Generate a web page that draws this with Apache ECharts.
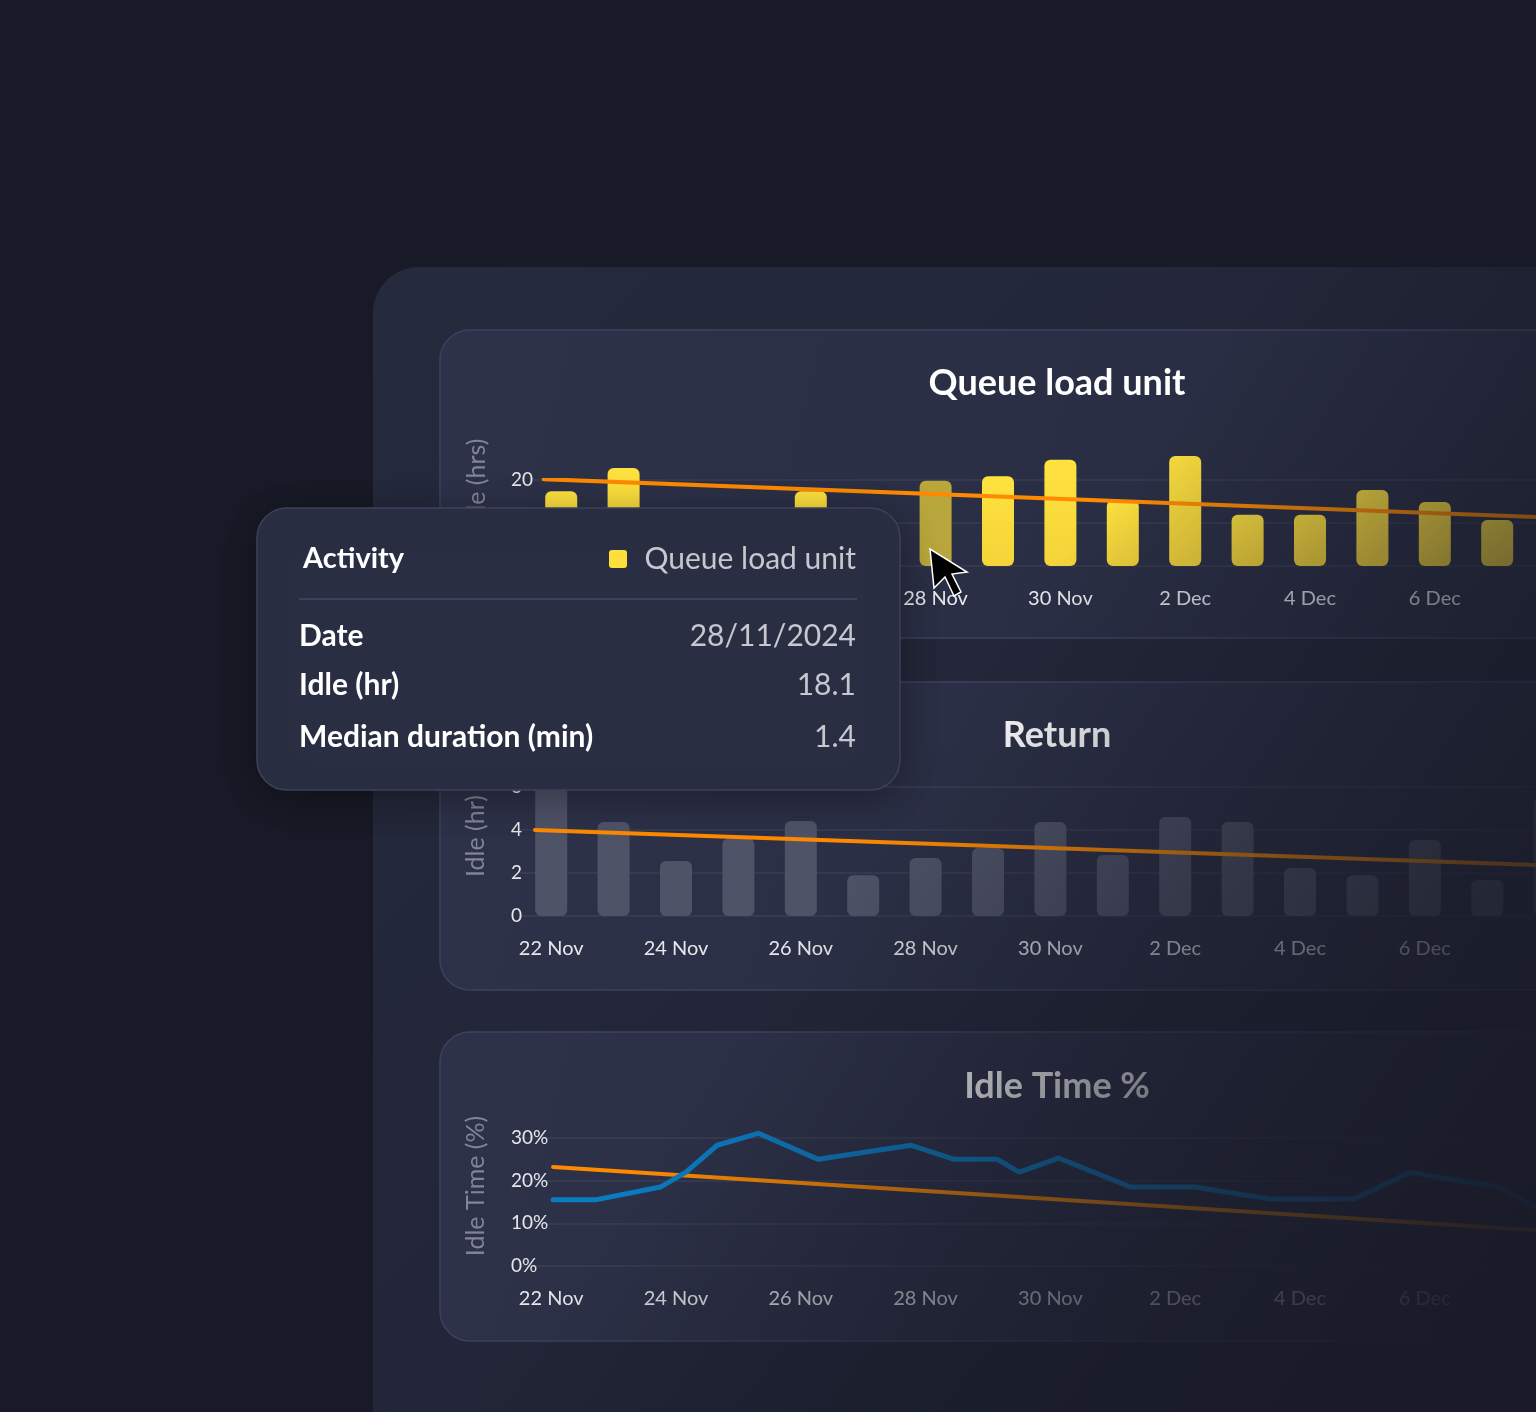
<!DOCTYPE html>
<html>
<head>
<meta charset="utf-8">
<title>Idle dashboard</title>
<script src="https://cdn.jsdelivr.net/npm/echarts@6/dist/echarts.min.js"></script>
<style>
  html, body { margin: 0; padding: 0; background: #181a27; overflow: hidden; }
  #chart { width: 1536px; height: 1412px; }
</style>
</head>
<body>
<div id="chart"></div>
<script>
// days on the x axis
const days = ['22 Nov', '23 Nov', '24 Nov', '25 Nov', '26 Nov', '27 Nov', '28 Nov', '29 Nov', '30 Nov',
  '1 Dec', '2 Dec', '3 Dec', '4 Dec', '5 Dec', '6 Dec', '7 Dec', '8 Dec']

// Queue load unit - idle hours per day (8 Dec is off screen)
const queueIdle = [17.4, 22.8, 9.5, 12.5, 17.4, 11, 19.8, 20.9, 24.7, 15.3, 25.6, 11.9, 11.9, 17.7, 14.9, 10.7, null]
// Return - idle hours per day
const returnIdle = [6.4, 4.37, 2.56, 3.6, 4.42, 1.9, 2.7, 3.16, 4.37, 2.84, 4.6, 4.37, 2.23, 1.9, 3.53, 1.67, 5.5]
// Idle time % line, points read at day positions (0 = 22 Nov)
const idleDayPos = [0.03, 0.71, 1.75, 2.16, 2.66, 3.32, 4.28, 5.77, 6.46, 7.15, 7.5, 8.13, 9.29, 10.32, 11.52, 12.87, 13.77, 14.38, 15.19, 15.79, 16.3]
const idlePct = [15.5, 15.5, 18.5, 22, 28.3, 31.1, 25.0, 28.3, 25, 25, 22, 25.3, 18.5, 18.5, 15.7, 15.7, 22, 20.4, 18.5, 13.6, 10]

// orange trend lines, [day position, value]
const queueTrend = [[-0.28, 20.2], [16.5, 10.9]]
const returnTrend = [[-0.26, 4.0], [16.5, 2.3]]
const idleTrend = [[0.03, 23.2], [16.5, 7.7]]

// y axis ranges [min, max, interval]
const queueAxis = [0, 20, 10]
const returnAxis = [0, 6, 2]
const idleAxis = [0, 30, 10]

// hovered day and tooltip rows
const hoverIndex = 6
const tipRows = [['Date', '28/11/2024'], ['Idle (hr)', '18.1'], ['Median duration (min)', '1.4']]

const FONT = 'Lato, "Noto Sans", sans-serif'
const chart = echarts.init(document.getElementById('chart'))

const catW = 62.4   // width of one day
function catAxis(grid) {
  return {
    type: 'category', gridIndex: grid, data: days,
    axisLine: {show: false}, axisTick: {show: false},
    axisLabel: {
      interval: 1, margin: 23, color: '#e6e7ec', fontSize: 20, fontFamily: FONT,
      formatter: (v, i) => i === days.length - 1 ? '' : v
    }
  }
}
function posAxis(grid) {
  return {type: 'value', gridIndex: grid, min: -0.5, max: days.length - 0.5, show: false}
}
function valAxis(grid, ax, left, fmt) {
  return {
    type: 'value', gridIndex: grid, min: ax[0], max: ax[1], interval: ax[2],
    axisLine: {show: false}, axisTick: {show: false},
    axisLabel: {align: 'left', margin: left - 511, color: '#e6e7ec', fontSize: 19, fontFamily: FONT, formatter: fmt},
    splitLine: {lineStyle: {color: 'rgba(255,255,255,0.07)', width: 1.5}}
  }
}

function text(x, y, t, font, fill, align, extra) {
  return Object.assign({
    type: 'text', x: x, y: y, z: 42, silent: true,
    style: {text: t, font: font, fill: fill, align: align, textAlign: align, verticalAlign: 'middle', textVerticalAlign: 'middle'}
  }, extra || {})
}
function panel(y, h) {
  return {
    type: 'rect', z: -10, silent: true,
    shape: {x: 440, y: y, width: 1200, height: h, r: 30},
    style: {
      fill: new echarts.graphic.LinearGradient(0, 0, 1, 1, [{offset: 0, color: '#2e3249'}, {offset: 1, color: '#272b40'}]),
      stroke: '#3d4160', lineWidth: 1.5
    }
  }
}

const graphics = [
  // outer card
  {
    type: 'rect', z: -20, silent: true,
    shape: {x: 373, y: 267, width: 1400, height: 1400, r: 46},
    style: {fill: new echarts.graphic.LinearGradient(0, 0, 1, 1, [{offset: 0, color: '#252a3d'}, {offset: 1, color: '#1d2030'}])}
  },
  panel(330, 308), panel(682, 308), panel(1032, 309),
  // titles
  text(1057, 383, 'Queue load unit', 'bold 36px ' + FONT, '#ffffff', 'center', {z: 5}),
  text(1057, 735, 'Return', 'bold 36px ' + FONT, '#ffffff', 'center', {z: 5}),
  text(1057, 1086, 'Idle Time %', 'bold 36px ' + FONT, '#ffffff', 'center', {z: 5}),
  // y axis names
  text(477, 485, 'Idle (hrs)', '25px ' + FONT, '#828599', 'center', {z: 5, rotation: Math.PI / 2}),
  text(476, 836, 'Idle (hr)', '25px ' + FONT, '#828599', 'center', {z: 5, rotation: Math.PI / 2}),
  text(476, 1186, 'Idle Time (%)', '25px ' + FONT, '#828599', 'center', {z: 5, rotation: Math.PI / 2}),
  // fade towards the lower right
  {
    type: 'rect', z: 30, silent: true,
    shape: {x: 0, y: 0, width: 1536, height: 1412},
    style: {
      fill: new echarts.graphic.LinearGradient(973, 681, 1611, 1128, [
        {offset: 0, color: 'rgba(24,26,39,0)'},
        {offset: 0.41, color: 'rgba(24,26,39,0.5)'},
        {offset: 0.67, color: 'rgba(24,26,39,0.75)'},
        {offset: 0.93, color: 'rgba(24,26,39,0.92)'},
        {offset: 1, color: 'rgba(24,26,39,0.95)'}
      ], true)
    }
  },
  // tooltip box
  {
    type: 'rect', z: 40, silent: true,
    shape: {x: 257, y: 508, width: 643, height: 282, r: 30},
    style: {fill: '#2a2e43', stroke: '#3d415b', lineWidth: 1.5, shadowBlur: 40, shadowColor: 'rgba(0,0,0,0.35)', shadowOffsetY: 8}
  },
  text(303, 559, 'Activity', 'bold 29px ' + FONT, '#ffffff', 'left'),
  {type: 'rect', z: 42, silent: true, shape: {x: 609, y: 550, width: 18, height: 18, r: 3}, style: {fill: '#ffdf3b'}},
  text(856, 559, 'Queue load unit', '30px ' + FONT, '#c6c7cf', 'right'),
  {type: 'line', z: 42, silent: true, shape: {x1: 299, y1: 599, x2: 857, y2: 599}, style: {stroke: '#3d415b', lineWidth: 2}}
]
const rowY = [636, 685, 737]
tipRows.forEach((r, i) => {
  graphics.push(text(299, rowY[i], r[0], 'bold 30px ' + FONT, '#ffffff', 'left'))
  graphics.push(text(856, rowY[i], r[1], '30px ' + FONT, '#c6c7cf', 'right'))
})
// mouse pointer
graphics.push({
  type: 'polygon', z: 50, silent: true,
  shape: {points: [[930, 549], [934, 588], [945, 577], [954, 596], [961, 592], [952, 574], [967, 572]]},
  style: {fill: '#000000', stroke: '#ffffff', lineWidth: 1.5}
})

const yellow = new echarts.graphic.LinearGradient(0, 0, 0, 1, [{offset: 0, color: '#ffe23e'}, {offset: 1, color: '#f4d43a'}])

const option = {
  backgroundColor: '#181a27',
  animation: false,
  grid: [
    {left: 530, top: 480, height: 86, width: catW * days.length, outerBoundsMode: 'none'},
    {left: 520, top: 787, height: 129, width: catW * days.length, outerBoundsMode: 'none'},
    {left: 520, top: 1138, height: 128, width: catW * days.length, outerBoundsMode: 'none'}
  ],
  xAxis: [catAxis(0), posAxis(0), catAxis(1), posAxis(1), catAxis(2), posAxis(2)],
  yAxis: [
    valAxis(0, queueAxis, 530),
    valAxis(1, returnAxis, 520),
    valAxis(2, idleAxis, 520, '{value}%')
  ],
  graphic: {elements: graphics},
  series: [
    {
      name: 'Queue load unit', type: 'bar', xAxisIndex: 0, yAxisIndex: 0, clip: false,
      barWidth: 32, itemStyle: {borderRadius: 6, color: yellow},
      data: queueIdle.map((v, i) => i === hoverIndex ? {value: v, itemStyle: {color: '#b9a73c'}} : v)
    },
    {
      type: 'line', xAxisIndex: 1, yAxisIndex: 0, symbol: 'none', z: 3,
      lineStyle: {color: '#ff8a00', width: 4, cap: 'round'}, data: queueTrend
    },
    {
      name: 'Return', type: 'bar', xAxisIndex: 2, yAxisIndex: 1, clip: false,
      barWidth: 32, itemStyle: {borderRadius: 6, color: '#4f5368'}, data: returnIdle
    },
    {
      type: 'line', xAxisIndex: 3, yAxisIndex: 1, symbol: 'none', z: 3,
      lineStyle: {color: '#ff8a00', width: 4, cap: 'round'}, data: returnTrend
    },
    {
      type: 'line', xAxisIndex: 5, yAxisIndex: 2, symbol: 'none', z: 3,
      lineStyle: {color: '#ff8a00', width: 4, cap: 'round'}, data: idleTrend
    },
    {
      name: 'Idle Time %', type: 'line', xAxisIndex: 5, yAxisIndex: 2, symbol: 'none', z: 4, clip: false,
      lineStyle: {color: '#0a7cc2', width: 5, cap: 'round', join: 'round'},
      data: idleDayPos.map((d, i) => [d, idlePct[i]])
    }
  ]
}
chart.setOption(option)
</script>
</body>
</html>
